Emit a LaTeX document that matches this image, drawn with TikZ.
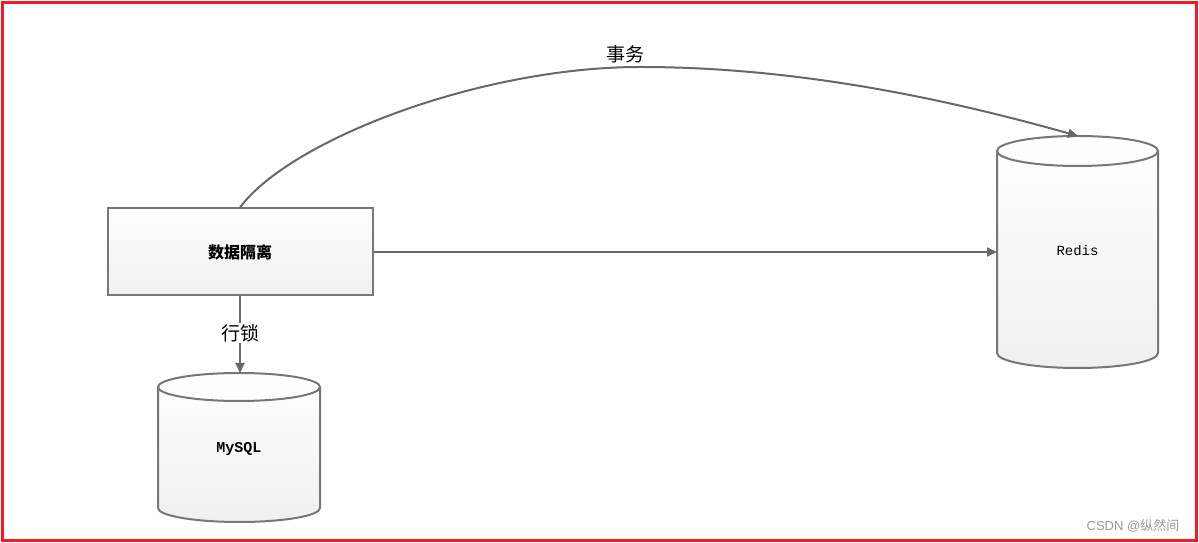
\documentclass[tikz,border=0pt]{standalone}
\usepackage{fontspec}
\setmonofont{Liberation Mono}
\newfontfamily\cjk{Noto Sans CJK SC}
\usetikzlibrary{arrows.meta}
\definecolor{edgegray}{HTML}{686868}
\definecolor{boxgray}{HTML}{777777}
\definecolor{framered}{HTML}{EE1C25}
\tikzset{
  conn/.style={draw=edgegray, line width=2pt, -{Triangle[length=10pt,width=9pt]}},
  boxstyle/.style={draw=boxgray, line width=2pt, top color=white, bottom color=black!6, minimum width=265pt, minimum height=87pt, inner sep=0pt},
  cylbody/.style={draw=boxgray, line width=2pt, top color=white, bottom color=black!6},
  lbl/.style={font=\cjk\fontsize{19}{21}\selectfont, text=black, inner sep=1pt},
}
\begin{document}
\begin{tikzpicture}[x=1pt,y=1pt]
\fill[white] (0,0) rectangle (1199,543);
\draw[color=framered, line width=2.2pt] (2.5,2.5) rectangle (1196.5,540.5);

% box
\node[boxstyle] (iso) at (240,291) {\cjk\bfseries\fontsize{16}{18}\selectfont 数据隔离};

% MySQL cylinder
\path[cylbody] (158,156) -- (158,35) arc[start angle=180,end angle=360,x radius=81,y radius=14] -- (320,156) arc[start angle=0,end angle=180,x radius=81,y radius=14] -- cycle;
\draw[boxgray, line width=2pt] (158,156) arc[start angle=180,end angle=360,x radius=81,y radius=14];
\node (mysql) at (239,94) {\ttfamily\bfseries\fontsize{15}{17}\selectfont MySQL};
\coordinate (mysqltop) at (240,170);

% Redis cylinder
\path[cylbody] (997,392) -- (997,190) arc[start angle=180,end angle=360,x radius=80.5,y radius=15] -- (1158,392) arc[start angle=0,end angle=180,x radius=80.5,y radius=15] -- cycle;
\draw[boxgray, line width=2pt] (997,392) arc[start angle=180,end angle=360,x radius=80.5,y radius=15];
\node (redis) at (1077.5,292) {\ttfamily\fontsize{14}{16}\selectfont Redis};
\coordinate (redistop) at (1078,407);
\coordinate (redisleft) at (997,291);
\coordinate (peak) at (640,476);

% connectors
\draw[conn] (iso.south) -- (mysqltop);
\node[lbl, fill=white] (lock) at (240,210) {行锁};
\draw[conn] (iso.east) -- (redisleft);
\draw[conn] (iso.north) .. controls (290,403) and (480,476) .. (peak) .. controls (800,476) and (950,443) .. (redistop);
\node[lbl] (tx) at (625,489) {事务};

\node[font=\fontspec{Liberation Sans}\fontsize{13}{15}\selectfont, text=black!40] (wm) at (1133,17) {CSDN @{\cjk 纵然间}};
\end{tikzpicture}
\end{document}
